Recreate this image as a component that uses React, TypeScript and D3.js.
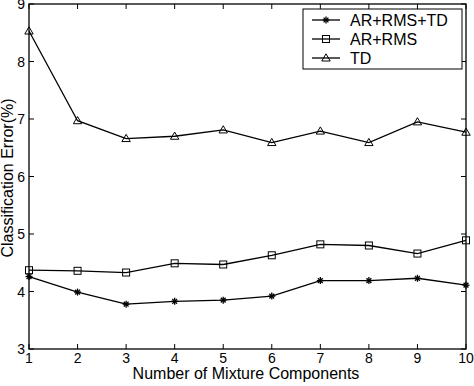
import React from "react";
import * as d3 from "d3";

const components = [1, 2, 3, 4, 5, 6, 7, 8, 9, 10];
const arRmsTd = [4.26, 3.99, 3.78, 3.83, 3.85, 3.92, 4.19, 4.19, 4.23, 4.11];
const arRms = [4.37, 4.36, 4.33, 4.49, 4.47, 4.63, 4.82, 4.8, 4.66, 4.89];
const td = [8.53, 6.97, 6.66, 6.7, 6.81, 6.59, 6.79, 6.59, 6.95, 6.77];
const xTicks = [1, 2, 3, 4, 5, 6, 7, 8, 9, 10];
const yTicks = [3, 4, 5, 6, 7, 8, 9];
const seriesNames = ["AR+RMS+TD", "AR+RMS", "TD"];

const W = 474, H = 386;
const m = { left: 29, right: 466, top: 4, bottom: 349 };
const FONT = "'Liberation Sans', Arial, Helvetica, sans-serif";

function Marker({ type, x, y }: { type: string; x: number; y: number }) {
  if (type === "star") {
    const r = 3.5;
    return (
      <g stroke="#000" strokeWidth={1.3}>
        <line x1={x - r} y1={y} x2={x + r} y2={y} />
        <line x1={x} y1={y - r} x2={x} y2={y + r} />
        <line x1={x - 2.4} y1={y - 2.4} x2={x + 2.4} y2={y + 2.4} />
        <line x1={x - 2.4} y1={y + 2.4} x2={x + 2.4} y2={y - 2.4} />
      </g>
    );
  }
  if (type === "square") {
    return <rect x={x - 3.5} y={y - 3.5} width={7} height={7} fill="none" stroke="#000" strokeWidth={1} />;
  }
  return (
    <path d={`M${x},${y - 4.2} L${x + 4.2},${y + 3} L${x - 4.2},${y + 3} Z`} fill="none" stroke="#000" strokeWidth={1} />
  );
}

export default function App() {
  const x = d3.scaleLinear().domain([1, 10]).range([m.left, m.right]);
  const y = d3.scaleLinear().domain([3, 9]).range([m.bottom, m.top]);
  const line = d3
    .line<number>()
    .x((_, i) => x(components[i]))
    .y((d) => y(d));
  const series = [
    { data: arRmsTd, marker: "star" },
    { data: arRms, marker: "square" },
    { data: td, marker: "triangle" },
  ];
  const tl = 5;
  return (
    <svg width={W} height={H} style={{ position: "absolute", left: 0, top: 0, background: "#fff" }} fontFamily={FONT}>
      <rect x={0} y={0} width={W} height={H} fill="#fff" />
      {series.map((s, si) => (
        <g key={si}>
          <path d={line(s.data) || ""} fill="none" stroke="#000" strokeWidth={1.3} />
          {s.data.map((v, i) => (
            <Marker key={i} type={s.marker} x={x(components[i])} y={y(v)} />
          ))}
        </g>
      ))}
      <rect x={m.left} y={m.top} width={m.right - m.left} height={m.bottom - m.top} fill="none" stroke="#000" strokeWidth={1.3} />
      {xTicks.map((t) => (
        <g key={"x" + t}>
          <line x1={x(t)} x2={x(t)} y1={m.bottom} y2={m.bottom - tl} stroke="#000" />
          <line x1={x(t)} x2={x(t)} y1={m.top} y2={m.top + tl} stroke="#000" />
          <text x={x(t)} y={363} textAnchor="middle" fontSize={14}>{t}</text>
        </g>
      ))}
      {yTicks.map((t) => (
        <g key={"y" + t}>
          <line x1={m.left} x2={m.left + tl} y1={y(t)} y2={y(t)} stroke="#000" />
          <line x1={m.right} x2={m.right - tl} y1={y(t)} y2={y(t)} stroke="#000" />
          <text x={m.left - 4} y={y(t) + 5} textAnchor="end" fontSize={14}>{t}</text>
        </g>
      ))}
      <text x={246} y={379} textAnchor="middle" fontSize={16}>Number of Mixture Components</text>
      <text transform={`translate(13,178) rotate(-90)`} textAnchor="middle" fontSize={16}>Classification Error(%)</text>
      <g>
        <rect x={303} y={9} width={159} height={60} fill="#fff" stroke="#000" strokeWidth={1} />
        {seriesNames.map((n, i) => {
          const ly = 20 + i * 19;
          return (
            <g key={n}>
              <line x1={312} x2={340} y1={ly} y2={ly} stroke="#000" strokeWidth={1.3} />
              <Marker type={series[i].marker} x={326} y={ly} />
              <text x={350} y={ly + 6} fontSize={16}>{n}</text>
            </g>
          );
        })}
      </g>
    </svg>
  );
}
